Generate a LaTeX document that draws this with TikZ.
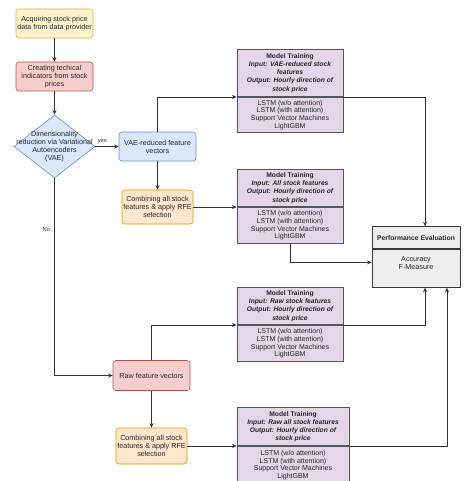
\documentclass[tikz,border=0pt]{standalone}
\usepackage{fontspec}
\setmainfont{Liberation Sans}
\usetikzlibrary{arrows.meta,shapes.geometric}
\definecolor{yelF}{HTML}{FFF2CC}\definecolor{yelD}{HTML}{D6B656}
\definecolor{redF}{HTML}{F8CECC}\definecolor{redD}{HTML}{B85450}
\definecolor{bluF}{HTML}{DAE8FC}\definecolor{bluD}{HTML}{6C8EBF}
\definecolor{orF}{HTML}{FFE6CC}\definecolor{orD}{HTML}{D79B00}
\definecolor{purF}{HTML}{E2D6E8}\definecolor{purD}{HTML}{555560}
\definecolor{peF}{HTML}{EEEEEE}\definecolor{peD}{HTML}{36393D}
\definecolor{lineC}{HTML}{333333}
\begin{document}
\begin{tikzpicture}[x=1pt,y=-1pt,
  txt/.style={font=\fontsize{7.2}{8}\selectfont, text=black!85, align=center, inner sep=0pt},
  rbox/.style={txt, draw, rounded corners=3pt, line width=0.6pt},
  yelbox/.style={rbox, fill=yelF, draw=yelD},
  redbox/.style={rbox, fill=redF, draw=redD},
  blubox/.style={rbox, fill=bluF, draw=bluD},
  orbox/.style={rbox, fill=orF, draw=orD},
  mthead/.style={txt, draw=purD, fill=purF, line width=0.7pt, minimum width=106pt, font=\fontsize{6.7}{8.1}\selectfont\bfseries},
  mtbody/.style={txt, draw=purD, fill=purF, line width=0.7pt, minimum width=106pt, font=\fontsize{7}{7.7}\selectfont},
  conn/.style={draw=lineC, line width=0.7pt, -{Stealth[length=4.5pt,width=4pt]}},
  lbl/.style={font=\fontsize{5.8}{6}\selectfont, text=black!80, inner sep=1pt}
]
\useasboundingbox (0,0) rectangle (474,481);
\fill[white] (0,0) rectangle (474,481);

% left column
\node[yelbox, minimum width=77pt, minimum height=29pt] (n1) at (54.5,23.5) {Acquiring stock price\\data from data provider};
\node[redbox, minimum width=77pt, minimum height=29pt] (n2) at (54.5,76.5) {Creating techical\\indicators from stock\\prices};
\node[diamond, draw=bluD, fill=bluF, line width=0.6pt, minimum width=81pt, minimum height=63pt, inner sep=0pt] (dia) at (54.5,146.5) {};
\node[txt] (diat) at (dia) {Dimensionality\\reduction via Variational\\Autoencoders\\(VAE)};

\node[blubox, minimum width=77pt, minimum height=29pt] (vae) at (157.5,146.5) {VAE-reduced feature\\vectors};
\node[orbox, minimum width=71pt, minimum height=34pt] (rfe1) at (157.5,207) {Combining all stock\\features \& apply RFE\\selection};
\node[redbox, minimum width=77pt, minimum height=30pt] (raw) at (151.5,375.5) {Raw feature vectors};
\node[orbox, minimum width=71pt, minimum height=36pt] (rfe2) at (151.5,446) {Combining all stock\\features \& apply RFE\\selection};

% model training boxes
\node[mthead, minimum height=47pt, anchor=south] (mt1h) at (290,97) {Model Training\\\itshape Input: VAE-reduced stock\\\itshape features\\\itshape Output: Hourly direction of\\\itshape stock price};
\node[mtbody, minimum height=35pt, anchor=north] (mt1b) at (290,97) {LSTM (w/o attention)\\LSTM (with attention)\\Support Vector Machines\\LightGBM};

\node[mthead, minimum height=37pt, anchor=south] (mt2h) at (290,207) {Model Training\\\itshape Input: All stock features\\\itshape Output: Hourly direction of\\\itshape stock price};
\node[mtbody, minimum height=36pt, anchor=north] (mt2b) at (290,207) {LSTM (w/o attention)\\LSTM (with attention)\\Support Vector Machines\\LightGBM};

\node[mthead, minimum height=37pt, anchor=south] (mt3h) at (290,325) {Model Training\\\itshape Input: Raw stock features\\\itshape Output: Hourly direction of\\\itshape stock price};
\node[mtbody, minimum height=36pt, anchor=north] (mt3b) at (290,325) {LSTM (w/o attention)\\LSTM (with attention)\\Support Vector Machines\\LightGBM};

\node[mthead, minimum width=112pt, minimum height=38pt, anchor=south] (mt4h) at (293,446) {Model Training\\\itshape Input: Raw all stock features\\\itshape Output: Hourly direction of\\\itshape stock price};
\node[mtbody, minimum width=112pt, minimum height=40pt, anchor=north, text depth=4pt] (mt4b) at (293,446) {LSTM (w/o attention)\\LSTM (with attention)\\Support Vector Machines\\LightGBM};

% performance evaluation
\node[txt, draw=peD, fill=peF, line width=0.8pt, minimum width=88pt, minimum height=22pt, anchor=south, font=\fontsize{6.8}{8}\selectfont\bfseries] (peh) at (416,249) {Performance Evaluation};
\node[txt, draw=peD, fill=peF, line width=0.8pt, minimum width=88pt, minimum height=38pt, anchor=north, text depth=10pt] (peb) at (416,249) {Accuracy\\F-Measure};

% connectors
\draw[conn] (n1) -- (n2);
\draw[conn] (n2) -- (dia);
\draw[conn] (dia) -- node[lbl, above, pos=0.3, yshift=1pt] (yes) {yes} (vae);
\draw[conn] (dia.south) |- node[lbl, pos=0.13, left, xshift=-3pt] (no) {No} (raw.west);
\draw[conn] (vae) -- (rfe1);
\draw[conn] (vae.north) |- (mt1h.south west);
\draw[conn] (rfe1.east) -- (mt2h.south west);
\draw[conn] (raw.north) |- (mt3h.south west);
\draw[conn] (raw) -- (rfe2);
\draw[conn] (rfe2.east) -- (mt4h.south west);
\draw[conn] (mt1h.south east) -| ([xshift=9pt]peh.north);
\draw[conn] (mt2b.south) |- ([yshift=6pt]peb.west);
\draw[conn] (mt3h.south east) -| ([xshift=9pt]peb.south);
\draw[conn] (mt4h.south east) -| ([xshift=31pt]peb.south);
\end{tikzpicture}
\end{document}
